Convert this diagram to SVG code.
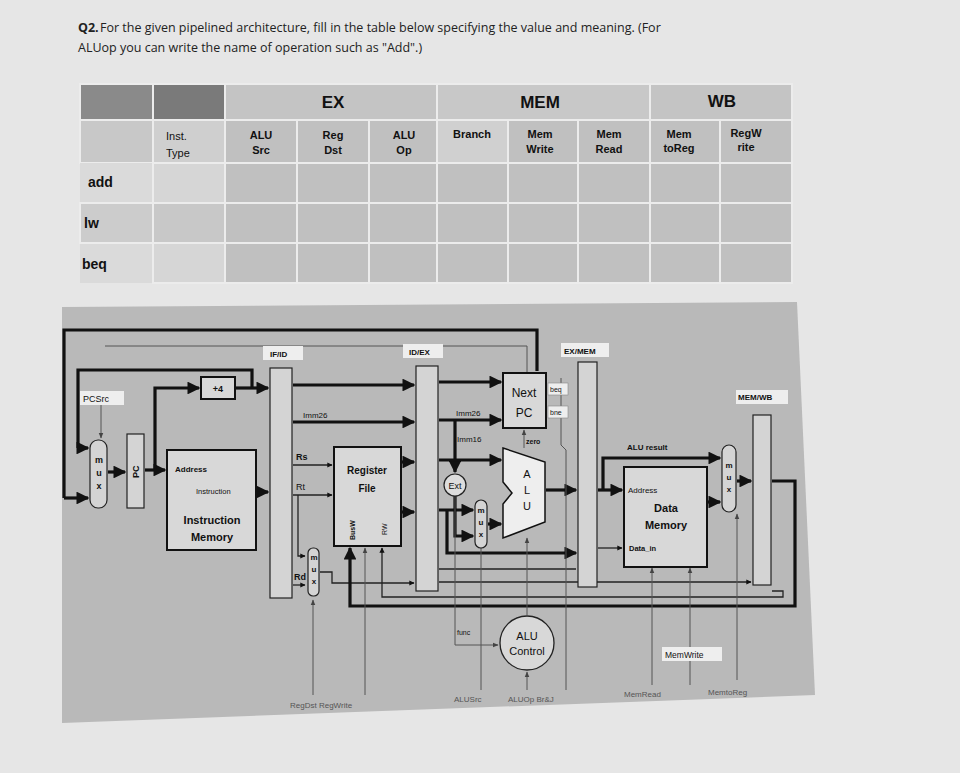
<svg xmlns="http://www.w3.org/2000/svg" width="960" height="773" viewBox="0 0 960 773">
<defs>
<marker id="a" viewBox="0 0 10 10" refX="9" refY="5" markerWidth="4" markerHeight="4" orient="auto"><path d="M0,0L10,5L0,10z" fill="#111"/></marker>
<marker id="s" viewBox="0 0 10 10" refX="9" refY="5" markerWidth="6" markerHeight="6" orient="auto"><path d="M0,1L10,5L0,9z" fill="#444"/></marker>
</defs>
<style>
text{font-family:"Liberation Sans",Arial,sans-serif;fill:#111}
.q{font-family:"Open Sans","Liberation Sans",sans-serif;font-size:12.5px;fill:#222}
.h{font-size:17px;font-weight:bold;text-anchor:middle}
.c{font-size:11px;font-weight:bold;text-anchor:middle}
.r{font-size:14px;font-weight:bold}
.cell{stroke:#ececec;stroke-width:2}
.box{fill:#d8d8d8;stroke:#111;stroke-width:2}
.reg{fill:#d4d4d4;stroke:#222;stroke-width:1.2}
.t{fill:none;stroke:#111;stroke-width:3.2}
.n{fill:none;stroke:#222;stroke-width:1.3}
.f{fill:none;stroke:#555;stroke-width:1}
.lb{font-size:8px;font-weight:bold}
.sm{font-size:8px;fill:#555}
.wt{fill:#eee}
</style>
<rect width="960" height="773" fill="#e6e6e6"/>
<text class="q" x="78" y="32" font-weight="bold">Q2.</text>
<text class="q" x="100" y="32">For the given pipelined architecture, fill in the table below specifying the value and meaning.  (For</text>
<text class="q" x="78" y="52" font-size="10.5">ALUop you can write the name of operation such as "Add".)</text>
<g id="table">
<rect class="cell" x="80" y="84" width="73" height="36" fill="#8a8a8a"/>
<rect class="cell" x="153" y="84" width="72" height="36" fill="#7a7a7a"/>
<rect class="cell" x="225" y="84" width="212" height="36" fill="#c4c4c4"/>
<rect class="cell" x="437" y="84" width="213" height="36" fill="#c8c8c8"/>
<rect class="cell" x="650" y="84" width="142" height="36" fill="#c4c4c4"/>
<text class="h" x="333" y="108">EX</text><text class="h" x="540" y="108">MEM</text><text class="h" x="722" y="107">WB</text>
<g id="cells" fill="#c0c0c0">
<rect class="cell" x="80" y="120" width="73" height="43" fill="#c8c8c8"/>
<rect class="cell" x="153" y="120" width="72" height="43" fill="#cfcfcf"/>
<rect class="cell" x="225" y="120" width="72" height="43"/><rect class="cell" x="297" y="120" width="72" height="43"/><rect class="cell" x="369" y="120" width="68" height="43"/><rect class="cell" x="437" y="120" width="71" height="43" fill="#d0d0d0"/><rect class="cell" x="508" y="120" width="70" height="43"/><rect class="cell" x="578" y="120" width="72" height="43"/><rect class="cell" x="650" y="120" width="70" height="43"/><rect class="cell" x="720" y="120" width="72" height="43"/>
<rect x="80" y="163" width="73" height="120" fill="#dadada"/>
<rect class="cell" x="153" y="163" width="72" height="40" fill="#d6d6d6"/><rect class="cell" x="153" y="203" width="72" height="40" fill="#c8c8c8"/><rect class="cell" x="153" y="243" width="72" height="40" fill="#d6d6d6"/>
<rect class="cell" x="80" y="203" width="73" height="40" fill="#cccccc"/>
<rect class="cell" x="225" y="163" width="72" height="40"/><rect class="cell" x="297" y="163" width="72" height="40"/><rect class="cell" x="369" y="163" width="68" height="40"/><rect class="cell" x="437" y="163" width="71" height="40"/><rect class="cell" x="508" y="163" width="70" height="40"/><rect class="cell" x="578" y="163" width="72" height="40"/><rect class="cell" x="650" y="163" width="70" height="40"/><rect class="cell" x="720" y="163" width="72" height="40"/>
<rect class="cell" x="225" y="203" width="72" height="40"/><rect class="cell" x="297" y="203" width="72" height="40"/><rect class="cell" x="369" y="203" width="68" height="40"/><rect class="cell" x="437" y="203" width="71" height="40"/><rect class="cell" x="508" y="203" width="70" height="40"/><rect class="cell" x="578" y="203" width="72" height="40"/><rect class="cell" x="650" y="203" width="70" height="40"/><rect class="cell" x="720" y="203" width="72" height="40"/>
<rect class="cell" x="225" y="243" width="72" height="40"/><rect class="cell" x="297" y="243" width="72" height="40"/><rect class="cell" x="369" y="243" width="68" height="40"/><rect class="cell" x="437" y="243" width="71" height="40"/><rect class="cell" x="508" y="243" width="70" height="40"/><rect class="cell" x="578" y="243" width="72" height="40"/><rect class="cell" x="650" y="243" width="70" height="40"/><rect class="cell" x="720" y="243" width="72" height="40"/>
</g>
<text x="166" y="140" font-size="11">Inst.</text><text x="166" y="157" font-size="11">Type</text>
<text class="c" x="261" y="139">ALU</text><text class="c" x="261" y="154" font-size="10">Src</text>
<text class="c" x="333" y="139">Reg</text><text class="c" x="333" y="154">Dst</text>
<text class="c" x="404" y="139">ALU</text><text class="c" x="404" y="154">Op</text>
<text class="c" x="472" y="138">Branch</text>
<text class="c" x="540" y="138">Mem</text><text class="c" x="540" y="153">Write</text>
<text class="c" x="609" y="138">Mem</text><text class="c" x="609" y="153">Read</text>
<text class="c" x="679" y="138">Mem</text><text class="c" x="679" y="152">toReg</text>
<text class="c" x="746" y="137">RegW</text><text class="c" x="746" y="151">rite</text>
<text class="r" x="88" y="187">add</text><text class="r" x="84" y="228">lw</text><text class="r" x="82" y="269">beq</text>
</g>
<g id="diagram-bg"><polygon points="62,307 797,302 815,695 62,723" fill="#b9b9b9"/></g>
<g id="connectors">
<path class="t" d="M64,498 V330 H537 V371"/>
<path class="t" d="M64,498 H88" marker-end="url(#a)"/>
<path class="t" d="M78,448 V370 H252 V388" />
<path class="t" d="M78,448 H88" marker-end="url(#a)"/>
<path class="t" d="M108,472 H125" marker-end="url(#a)"/>
<path class="t" d="M145,470 H165" marker-end="url(#a)"/>
<path class="t" d="M155,470 V388 H199" marker-end="url(#a)"/>
<path class="t" d="M236,388 H268" marker-end="url(#a)"/>
<path class="t" d="M257,492 H268" marker-end="url(#a)"/>
<path class="t" d="M293,385 H414" marker-end="url(#a)"/>
<path class="t" d="M293,422 H414" marker-end="url(#a)"/>
<path class="n" d="M293,465 H332" marker-end="url(#a)"/>
<path class="n" d="M293,495 H332" marker-end="url(#a)"/>
<path class="n" d="M298,495 V556 H305" marker-end="url(#a)"/>
<path class="n" d="M293,585 H305" marker-end="url(#a)"/>
<path class="n" d="M320,572 H332 V583 H414" marker-end="url(#a)"/>
<path class="t" d="M402,462 H414" marker-end="url(#a)"/>
<path class="t" d="M402,512 H414" marker-end="url(#a)"/>
<path class="t" d="M439,382 H501" marker-end="url(#a)"/>
<path class="t" d="M439,420 H501" marker-end="url(#a)"/>
<path class="t" d="M455,420 V472" marker-end="url(#a)"/>
<path class="t" d="M439,460 H501" marker-end="url(#a)"/>
<path class="t" d="M439,510 H473" marker-end="url(#a)"/>
<path class="t" d="M455,496 V536 H473" marker-end="url(#a)"/>
<path class="t" d="M447,510 V553 H576" marker-end="url(#a)"/>
<path class="t" d="M488,524 H501" marker-end="url(#a)"/>
<path class="t" d="M546,490 H576" marker-end="url(#a)"/>
<path class="t" d="M598,490 H622" marker-end="url(#a)"/>
<path class="t" d="M603,490 V458 H720" marker-end="url(#a)"/>
<path class="n" d="M598,548 H622" marker-end="url(#a)"/>
<path class="t" d="M708,502 H720" marker-end="url(#a)"/>
<path class="t" d="M737,481 H751" marker-end="url(#a)"/>
<path class="t" d="M772,481 H795 V606 H350 V548" marker-end="url(#a)"/>
<path class="n" d="M439,582 H751" marker-end="url(#a)"/>
<path class="n" d="M772,591 H783 V597 H382 V548" marker-end="url(#a)"/>
<path class="n" d="M439,569 H576"/>
<path class="f" d="M105,346 H527 V372"/>
<path class="f" d="M101,405 V438" marker-end="url(#s)"/>
<path class="f" d="M524,448 V430" marker-end="url(#s)"/>
<path class="f" d="M561,378 V383 M561,395 V406 M561,418 V445 L566,450 V690"/>
<path class="f" d="M455,496 V645 H498" marker-end="url(#s)"/>
<path class="f" d="M481,548 V690"/>
<path class="f" d="M527,615 V538" marker-end="url(#s)"/>
<path class="f" d="M527,690 V672" marker-end="url(#s)"/>
<path class="f" d="M313,695 V600" marker-end="url(#s)"/>
<path class="f" d="M365,695 V548" marker-end="url(#s)"/>
<path class="f" d="M652,685 V568" marker-end="url(#s)"/>
<path class="f" d="M690,685 V568" marker-end="url(#s)"/>
<path class="f" d="M737,680 V514" marker-end="url(#s)"/>
</g>
<g id="labels">
<rect class="wt" x="80" y="391" width="44" height="14"/><text x="83" y="402" font-size="9" fill="#333">PCSrc</text>
<rect class="wt" x="263" y="346" width="40" height="14"/><text class="lb" x="270" y="357">IF/ID</text>
<rect class="wt" x="403" y="344" width="40" height="14"/><text class="lb" x="409" y="355">ID/EX</text>
<rect class="wt" x="561" y="343" width="48" height="14"/><text class="lb" x="564" y="354">EX/MEM</text>
<rect class="wt" x="736" y="390" width="52" height="14"/><text class="lb" x="738" y="400">MEM/WB</text>
<text x="303" y="418" font-size="8">Imm26</text>
<text x="456" y="416" font-size="8">Imm26</text>
<text x="457" y="442" font-size="8">Imm16</text>
<text x="296" y="460" font-size="9" font-weight="bold">Rs</text>
<text x="296" y="490" font-size="9">Rt</text>
<text x="294" y="580" font-size="9" font-weight="bold">Rd</text>
<text x="526" y="444" font-size="7" font-weight="bold">zero</text>
<text x="627" y="450" font-size="8" font-weight="bold">ALU result</text>
<text x="457" y="635" font-size="7" fill="#555">func</text>
<rect class="wt" x="662" y="647" width="60" height="14"/><text x="665" y="658" font-size="8.5" fill="#333">MemWrite</text>
<text x="290" y="708" class="sm">RegDst RegWrite</text>
<text x="454" y="702" class="sm">ALUSrc</text><text x="508" y="702" class="sm">ALUOp Br&amp;J</text>
<text x="624" y="697" class="sm">MemRead</text><text x="708" y="695" class="sm">MemtoReg</text>
</g>
<g id="mux1"><rect class="reg" x="90" y="440" width="17" height="68" rx="8"/><text x="99" y="463" font-size="9" font-weight="bold" text-anchor="middle">m</text><text x="99" y="476" font-size="9" font-weight="bold" text-anchor="middle">u</text><text x="99" y="489" font-size="9" font-weight="bold" text-anchor="middle">x</text></g>
<g id="pc"><rect class="reg" x="127" y="434" width="17" height="74"/><text x="0" y="0" font-size="9" font-weight="bold" transform="translate(139,478) rotate(-90)">PC</text></g>
<g id="plus4"><rect class="box" x="201" y="377" width="34" height="22" stroke-width="1.2"/><text x="218" y="392" font-size="9" font-weight="bold" text-anchor="middle">+4</text></g>
<g id="imem"><rect class="box" x="167" y="450" width="89" height="100"/><text x="175" y="472" font-size="8" font-weight="bold">Address</text><text x="196" y="494" font-size="7.5">Instruction</text><text x="212" y="524" font-size="11" font-weight="bold" text-anchor="middle">Instruction</text><text x="212" y="541" font-size="11" font-weight="bold" text-anchor="middle">Memory</text></g>
<g id="ifid"><rect class="reg" x="270" y="368" width="22" height="230"/></g>
<g id="idex"><rect class="reg" x="416" y="366" width="22" height="225"/></g>
<g id="exmem"><rect class="reg" x="578" y="362" width="19" height="225"/></g>
<g id="memwb"><rect class="reg" x="753" y="415" width="18" height="170"/></g>
<g id="regfile"><rect class="box" x="334" y="447" width="67" height="99"/><text x="367" y="474" font-size="10" font-weight="bold" text-anchor="middle">Register</text><text x="367" y="492" font-size="10" font-weight="bold" text-anchor="middle">File</text><text font-size="7" font-weight="bold" transform="translate(355,540) rotate(-90)">BusW</text><text font-size="7" transform="translate(387,535) rotate(-90)">RW</text></g>
<g id="muxrd"><rect class="reg" x="308" y="548" width="11" height="48" rx="5"/><text x="314" y="560" font-size="8" font-weight="bold" text-anchor="middle">m</text><text x="314" y="572" font-size="8" font-weight="bold" text-anchor="middle">u</text><text x="314" y="584" font-size="8" font-weight="bold" text-anchor="middle">x</text></g>
<g id="nextpc"><rect class="box" x="503" y="373" width="43" height="55" fill="#e2e2e2"/><text x="524" y="397" font-size="12" text-anchor="middle">Next</text><text x="524" y="417" font-size="12" text-anchor="middle">PC</text><rect class="wt" x="548" y="383" width="20" height="12" stroke="#888" stroke-width="0.6"/><text x="550" y="392" font-size="7">beq</text><rect class="wt" x="548" y="406" width="20" height="12" stroke="#888" stroke-width="0.6"/><text x="550" y="415" font-size="7">bne</text></g>
<g id="ext"><circle cx="455" cy="485" r="11" fill="#ddd" stroke="#222" stroke-width="1.2"/><text x="455" y="489" font-size="9" text-anchor="middle">Ext</text></g>
<g id="muxalu"><rect class="reg" x="475" y="500" width="12" height="48" rx="6"/><text x="481" y="513" font-size="8" font-weight="bold" text-anchor="middle">m</text><text x="481" y="525" font-size="8" font-weight="bold" text-anchor="middle">u</text><text x="481" y="537" font-size="8" font-weight="bold" text-anchor="middle">x</text></g>
<g id="alu"><polygon points="503,448 545,462 545,522 503,538 503,504 512,493 503,482" fill="#eee" stroke="#111" stroke-width="1.5"/><text x="527" y="478" font-size="11" text-anchor="middle">A</text><text x="527" y="494" font-size="11" text-anchor="middle">L</text><text x="527" y="510" font-size="11" text-anchor="middle">U</text></g>
<g id="aluctl"><ellipse cx="527" cy="643" rx="27" ry="27" fill="#d8d8d8" stroke="#222" stroke-width="1.3"/><text x="527" y="640" font-size="11" text-anchor="middle">ALU</text><text x="527" y="655" font-size="11" text-anchor="middle">Control</text></g>
<g id="dmem"><rect class="box" x="624" y="467" width="83" height="100"/><text x="628" y="493" font-size="8">Address</text><text x="666" y="512" font-size="11" font-weight="bold" text-anchor="middle">Data</text><text x="666" y="529" font-size="11" font-weight="bold" text-anchor="middle">Memory</text><text x="629" y="551" font-size="7.5" font-weight="bold">Data_in</text></g>
<g id="muxwb"><rect class="reg" x="722" y="445" width="14" height="67" rx="7"/><text x="729" y="468" font-size="8" font-weight="bold" text-anchor="middle">m</text><text x="729" y="480" font-size="8" font-weight="bold" text-anchor="middle">u</text><text x="729" y="492" font-size="8" font-weight="bold" text-anchor="middle">x</text></g>
</svg>
